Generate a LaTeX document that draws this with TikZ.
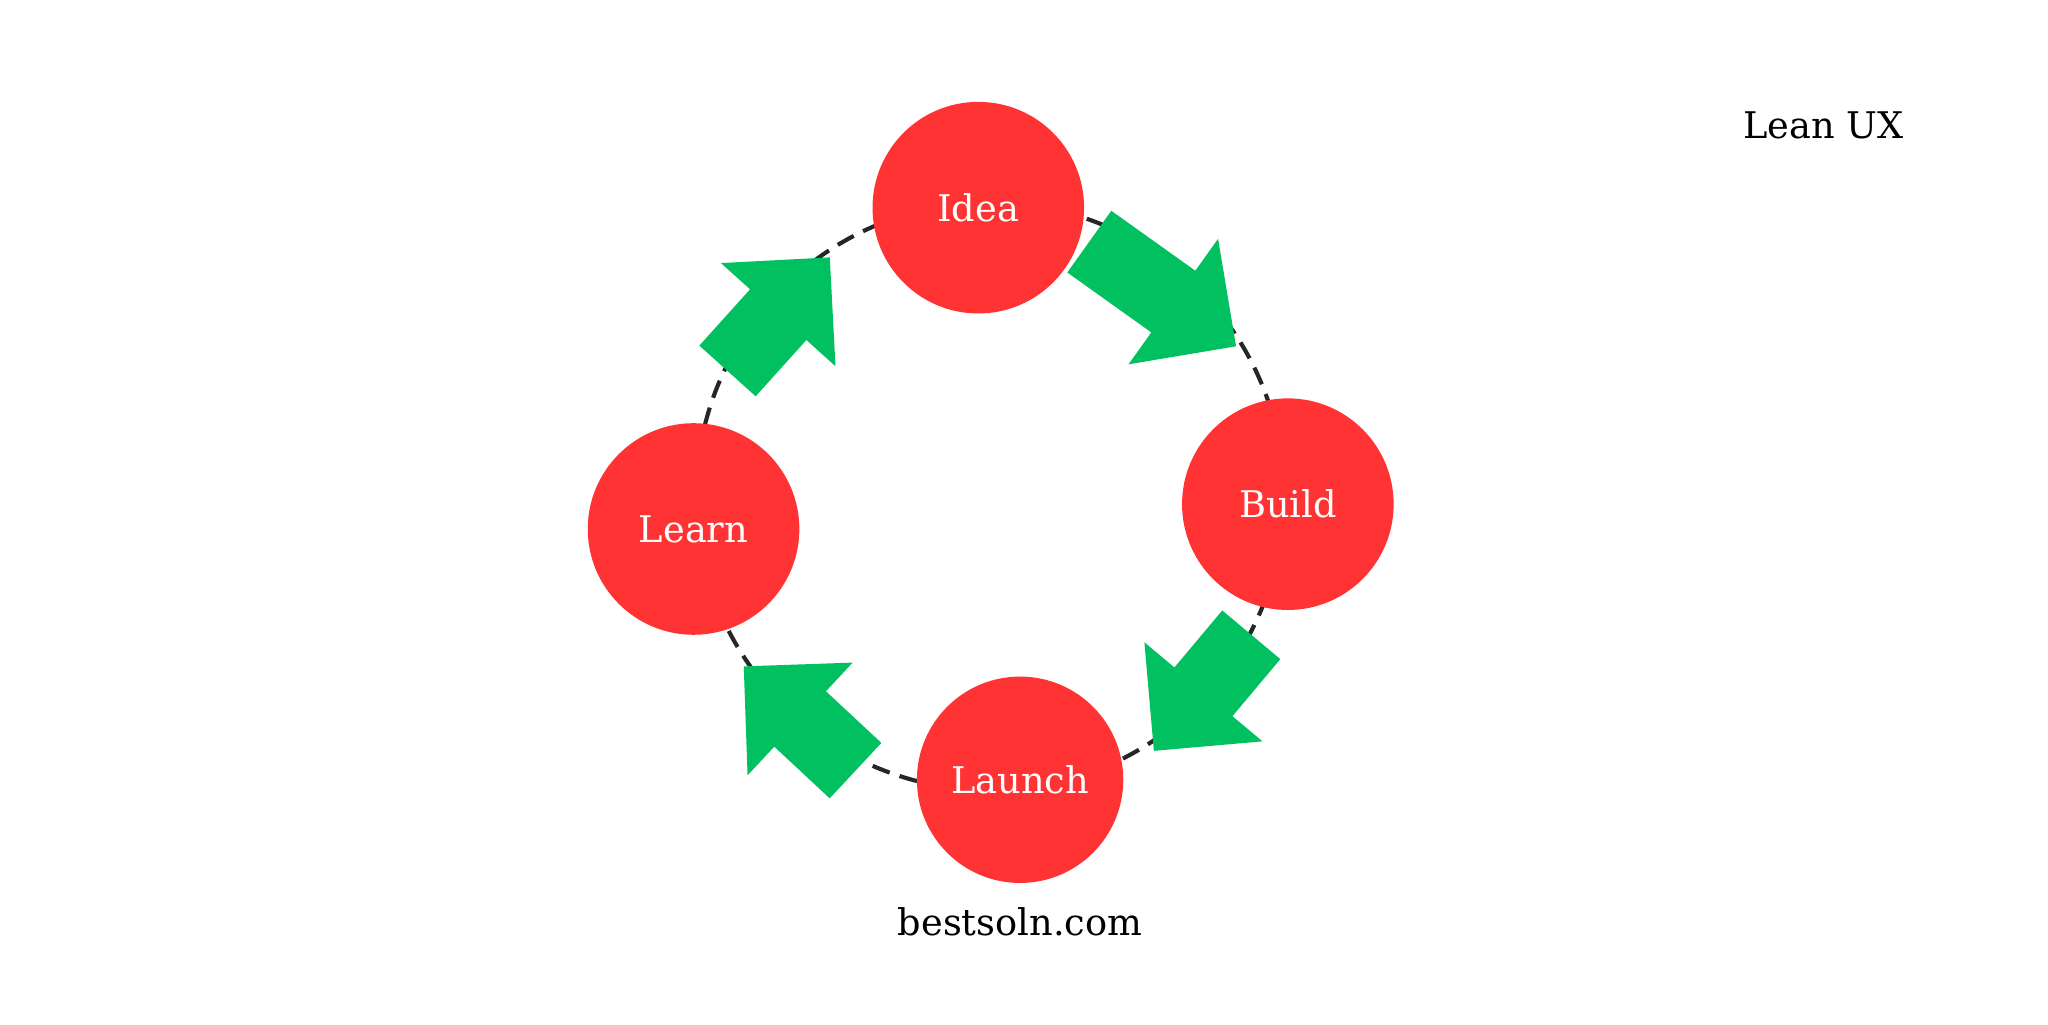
\documentclass[tikz,border=0pt]{standalone}
\usepackage{fontspec}
\setmainfont{DejaVu Serif}
\definecolor{stagered}{HTML}{FF3333}
\definecolor{flowgreen}{HTML}{00C060}
\begin{document}
\begin{tikzpicture}[%
        stage/.style={circle,fill=stagered,minimum size=1.62cm,inner sep=0pt,
            text=white,font=\fontsize{8}{10}\selectfont},
        label/.style={font=\fontsize{8}{10}\selectfont},
        cycle/.style={dashed,dash pattern=on 0.14cm off 0.08cm,line width=0.9pt,
            draw=black!85}]
        \useasboundingbox[fill=white] (0,0) rectangle (15.68,7.84);
        \coordinate (c) at (7.58,4.04);
        \draw[cycle] (c) circle (2.25);

        \node[stage]    at (7.49,6.25)  (idea)   {Idea};
        \node[stage]    at (9.86,3.98)  (build)  {Build};
        \node[stage,minimum size=1.58cm] at (7.81,1.87) (launch) {Launch};
        \node[stage]    at (5.31,3.79)  (learn)  {Learn};

        % block arrows: tail x, tail y, angle, length
        \foreach \x/\y/\a/\l in {8.34/5.99/-35.5/1.38, 9.58/2.98/230/1.16,
                6.55/1.94/137/1.17, 5.57/5.00/48/1.17}
            \fill[flowgreen,shift={(\x,\y)},rotate=\a]
                (0,-0.29) -- ({\l-0.59},-0.29) -- ({\l-0.59},-0.59) -- (\l,0)
                -- ({\l-0.59},0.59) -- ({\l-0.59},0.29) -- (0,0.29) -- cycle;

        \node[label]    at (13.96,6.88) (title) {Lean UX};
        \node[label]    at (7.81,0.78)  (site)  {bestsoln.com};
\end{tikzpicture}
\end{document}
